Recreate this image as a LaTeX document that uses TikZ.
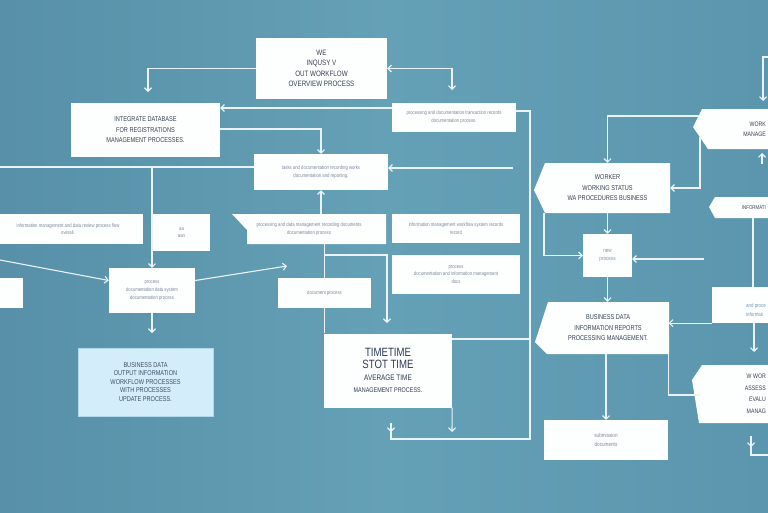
\documentclass[tikz,border=0pt]{standalone}
\usepackage{fontspec}
\setmainfont{Liberation Sans}
\newfontfamily\cond[FakeStretch=0.8]{Liberation Sans}
\usetikzlibrary{arrows.meta}
\definecolor{bgl}{HTML}{5790A8}
\definecolor{bgm}{HTML}{64A0B6}
\definecolor{bgr}{HTML}{5B96AE}
\definecolor{linec}{HTML}{EAF3F7}
\definecolor{boxw}{HTML}{FDFEFE}
\definecolor{tdark}{HTML}{354152}
\definecolor{tnavy}{HTML}{2B3A57}
\definecolor{tgray}{HTML}{7A8899}
\definecolor{tblue}{HTML}{7496B3}
\definecolor{lbfill}{HTML}{D3EDFA}
\definecolor{lbdraw}{HTML}{B0D9EE}
\begin{document}
\begin{tikzpicture}[x=1pt,y=-1pt,
  wbox/.style={fill=boxw,draw=none,inner sep=0pt,align=center},
  hbox/.style={draw=none,fill=none,inner sep=0pt,align=center},
  shapefill/.style={fill=boxw,draw=none},
  small/.style={text=tgray,font=\cond\fontsize{5.3}{7.8}\selectfont},
  med/.style={text=tdark,font=\cond\fontsize{7}{10.5}\selectfont},
  ln/.style={draw=linec,line width=1.1pt},
  ar/.style={ln,-{Straight Barb[length=3.5pt,width=7pt]}},
  arr2/.style={ln,{Straight Barb[length=3.5pt,width=7pt]}-{Straight Barb[length=3.5pt,width=7pt]}}]
\useasboundingbox (0,0) rectangle (768,512);
\clip (0,0) rectangle (768,512);
\shade[left color=bgl,right color=bgr,middle color=bgm] (0,0) rectangle (768,512);

% ---------- left / centre boxes ----------
\node[wbox,minimum width=131pt,minimum height=61pt,text=tdark,font=\cond\fontsize{7.8}{10.5}\selectfont] (b1) at (321.5,68.5) {WE\\INQUSY V\\OUT WORKFLOW\\OVERVIEW PROCESS};
\node[wbox,med,minimum width=149pt,minimum height=54pt] (b2) at (145.5,130) {INTEGRATE DATABASE\\FOR REGISTRATIONS\\MANAGEMENT PROCESSES.};
\node[wbox,small,minimum width=124pt,minimum height=29pt] (b3) at (454,117.5) {processing and documentation transaction records\\documentation process.};
\node[wbox,small,minimum width=134pt,minimum height=36pt] (b4) at (321,172) {tasks and documentation recording works\\documentation and reporting.};
\node[wbox,small,minimum width=150pt,minimum height=30pt] (b5) at (68,229) {information management and data review process flow\\overall.};
\node[wbox,small,minimum width=57pt,minimum height=37pt] (b6) at (181.5,232.5) {aa\\aan};
\fill[shapefill] (232,214) -- (386,214) -- (386,244) -- (247,244) -- (247,230) -- cycle;
\node[hbox,small,minimum width=154pt,minimum height=30pt] (b7) at (309,229) {processing and data management recording documents\\documentation process};
\node[wbox,small,minimum width=128pt,minimum height=29pt] (b8) at (456,228.5) {information management workflow system records\\record};
\node[wbox,small,minimum width=128pt,minimum height=39pt] (b9) at (456,274.5) {process\\documentation and information management\\docs};
\node[wbox,minimum width=30pt,minimum height=30pt] (b10) at (8,293) {};
\node[wbox,small,minimum width=86pt,minimum height=45pt] (b11) at (152,290.5) {process\\documentation data system\\documentation process};
\node[wbox,small,minimum width=93pt,minimum height=30pt] (b12) at (324.5,293) {document process};
\node[fill=lbfill,draw=lbdraw,line width=0.8pt,inner sep=0pt,align=center,minimum width=135pt,minimum height=68pt,text=tnavy!90,font=\cond\fontsize{7}{8.5}\selectfont] (b13) at (145.5,382) {BUSINESS DATA\\OUTPUT INFORMATION\\WORKFLOW PROCESSES\\WITH PROCESSES\\UPDATE PROCESS.};
\node[wbox,minimum width=128pt,minimum height=74pt,text=tnavy] (b14) at (388,370.5) {{\cond\fontsize{12}{14}\selectfont TIMETIME}\\{\cond\fontsize{12}{14}\selectfont STOT TIME}\\{\cond\fontsize{8}{12}\selectfont AVERAGE TIME}\\{\cond\fontsize{6.8}{11}\selectfont MANAGEMENT PROCESS.}};

% ---------- right boxes ----------
\fill[shapefill] (545,163) -- (670,163) -- (670,213) -- (545,213) -- (534,190) -- cycle;
\node[hbox,med,minimum width=125pt,minimum height=50pt] (b15) at (607.5,188) {WORKER\\WORKING STATUS\\WA PROCEDURES BUSINESS};
\node[wbox,minimum width=49pt,minimum height=43pt,text=tblue,font=\cond\fontsize{5.8}{8.5}\selectfont] (b16) at (607.5,255.5) {new\\process};
\fill[shapefill] (548,302) -- (669,302) -- (669,354) -- (547,354) -- (535,342) -- cycle;
\node[hbox,med,minimum width=121pt,minimum height=52pt] (b17) at (608,328) {BUSINESS DATA\\INFORMATION REPORTS\\PROCESSING MANAGEMENT.};
\node[wbox,small,minimum width=124pt,minimum height=40pt,font=\cond\fontsize{5.8}{9}\selectfont] (b18) at (606,440) {submission\\documents};
\fill[shapefill] (702,109) -- (775,109) -- (775,149) -- (708,149) -- (693,127) -- cycle;
\node[hbox,anchor=east,align=right,text=tdark,font=\cond\fontsize{6.5}{10}\selectfont] (b19) at (766,129) {WORK\\MANAGE};
\fill[shapefill] (715,197) -- (775,197) -- (775,218) -- (715,218) -- (709,207) -- cycle;
\node[hbox,anchor=east,text=tdark,font=\cond\fontsize{5.5}{7}\selectfont] (b20) at (766,207.5) {INFORMATI};
\node[wbox,minimum width=64pt,minimum height=36pt] (b21) at (744,305) {};
\node[hbox,anchor=east,align=left,text=tblue,font=\cond\fontsize{5.5}{8.5}\selectfont] (t21) at (766,310) {and proce\\informati};
\fill[shapefill] (702,365) -- (775,365) -- (775,423) -- (699,423) -- (692,380) -- cycle;
\node[hbox,anchor=east,align=right,text=tdark,font=\cond\fontsize{6.5}{11.5}\selectfont] (b22) at (766,394) {W WOR\\ASSESS\\EVALU\\MANAG};

% ---------- free ends ----------
\coordinate (c148) at (148,92);
\coordinate (c452) at (452,90);
\coordinate (s6) at (513,168);
\coordinate (c530) at (530,439);
\coordinate (c391) at (391,439);
\coordinate (c387) at (387,323);
\coordinate (l260) at (0,260);
\coordinate (r266) at (287,266);
\coordinate (d333) at (152,333);
\coordinate (top57) at (768,57);
\coordinate (r259) at (704,259);
\coordinate (br455) at (768,455);

% ---------- connectors ----------
\draw[ar] (b1.west) -| (c148);
\draw[arr2] (c452) |- (b1.east);
\draw[ar] (b3.west |- 0,108) -- (b2.east |- 0,108);
\draw[ar] (b2.east |- 0,129) -| (b4.north);
\draw[ln] (0,167) -- (b4.west |- 0,167);
\draw[ar] (152,167) -- (b11.north);
\draw[ar] (s6) -- (b4.east |- s6);
\draw[ar] (b4.south |- b7.north) -- (b4.south);
\draw[ln] (b3.east |- 0,111) -| (c530) -- (c391) -- (391,430);
\draw[ar] (391,423) -- (391,432);
\draw[ln] (b14.east |- 0,339) -- (530,339);
\draw[ar] (b14.south east) -- (452,432);
\draw[ln] (b12.north |- b7.south) -- (b12.north);
\draw[ln] (b12.south) -- (b12.south |- b14.north);
\draw[ar] (324,255) -| (c387);
\draw[ar] (l260) -- ([yshift=10pt]b11.west);
\draw[ar] ([yshift=10pt]b11.east) -- (r266);
\draw[ar] (b11.south) -- (d333);
% right side
\draw[ar] (699,116) -| (b15.north);
\draw[ar] (700,137) |- (b15.east);
\draw[ar] (top57) -| (763,101);
\draw[ar] (762,164) -- (762,153);
\draw[ar] (b15.south -| b16.north) -- (b16.north);
\draw[ar] (544,213) |- (b16.west);
\draw[ar] (r259) -- (b16.east |- r259);
\draw[ar] (b16.south) -- (b16.south |- b17.north);
\draw[ar] (b18.north |- b17.south) -- (b18.north);
\draw[ln] (b17.south east) |- (700,395);
\draw[ar] (b21.south west) -- (b17.east |- b21.south west);
\draw[ln] (753,218) -- (b21.north -| 753,0);
\draw[ar] (754,323) -- (754,352);
\draw[ln] (br455) -| (751,440);
\draw[ar] (751,436) -- (751,447);
\end{tikzpicture}
\end{document}
